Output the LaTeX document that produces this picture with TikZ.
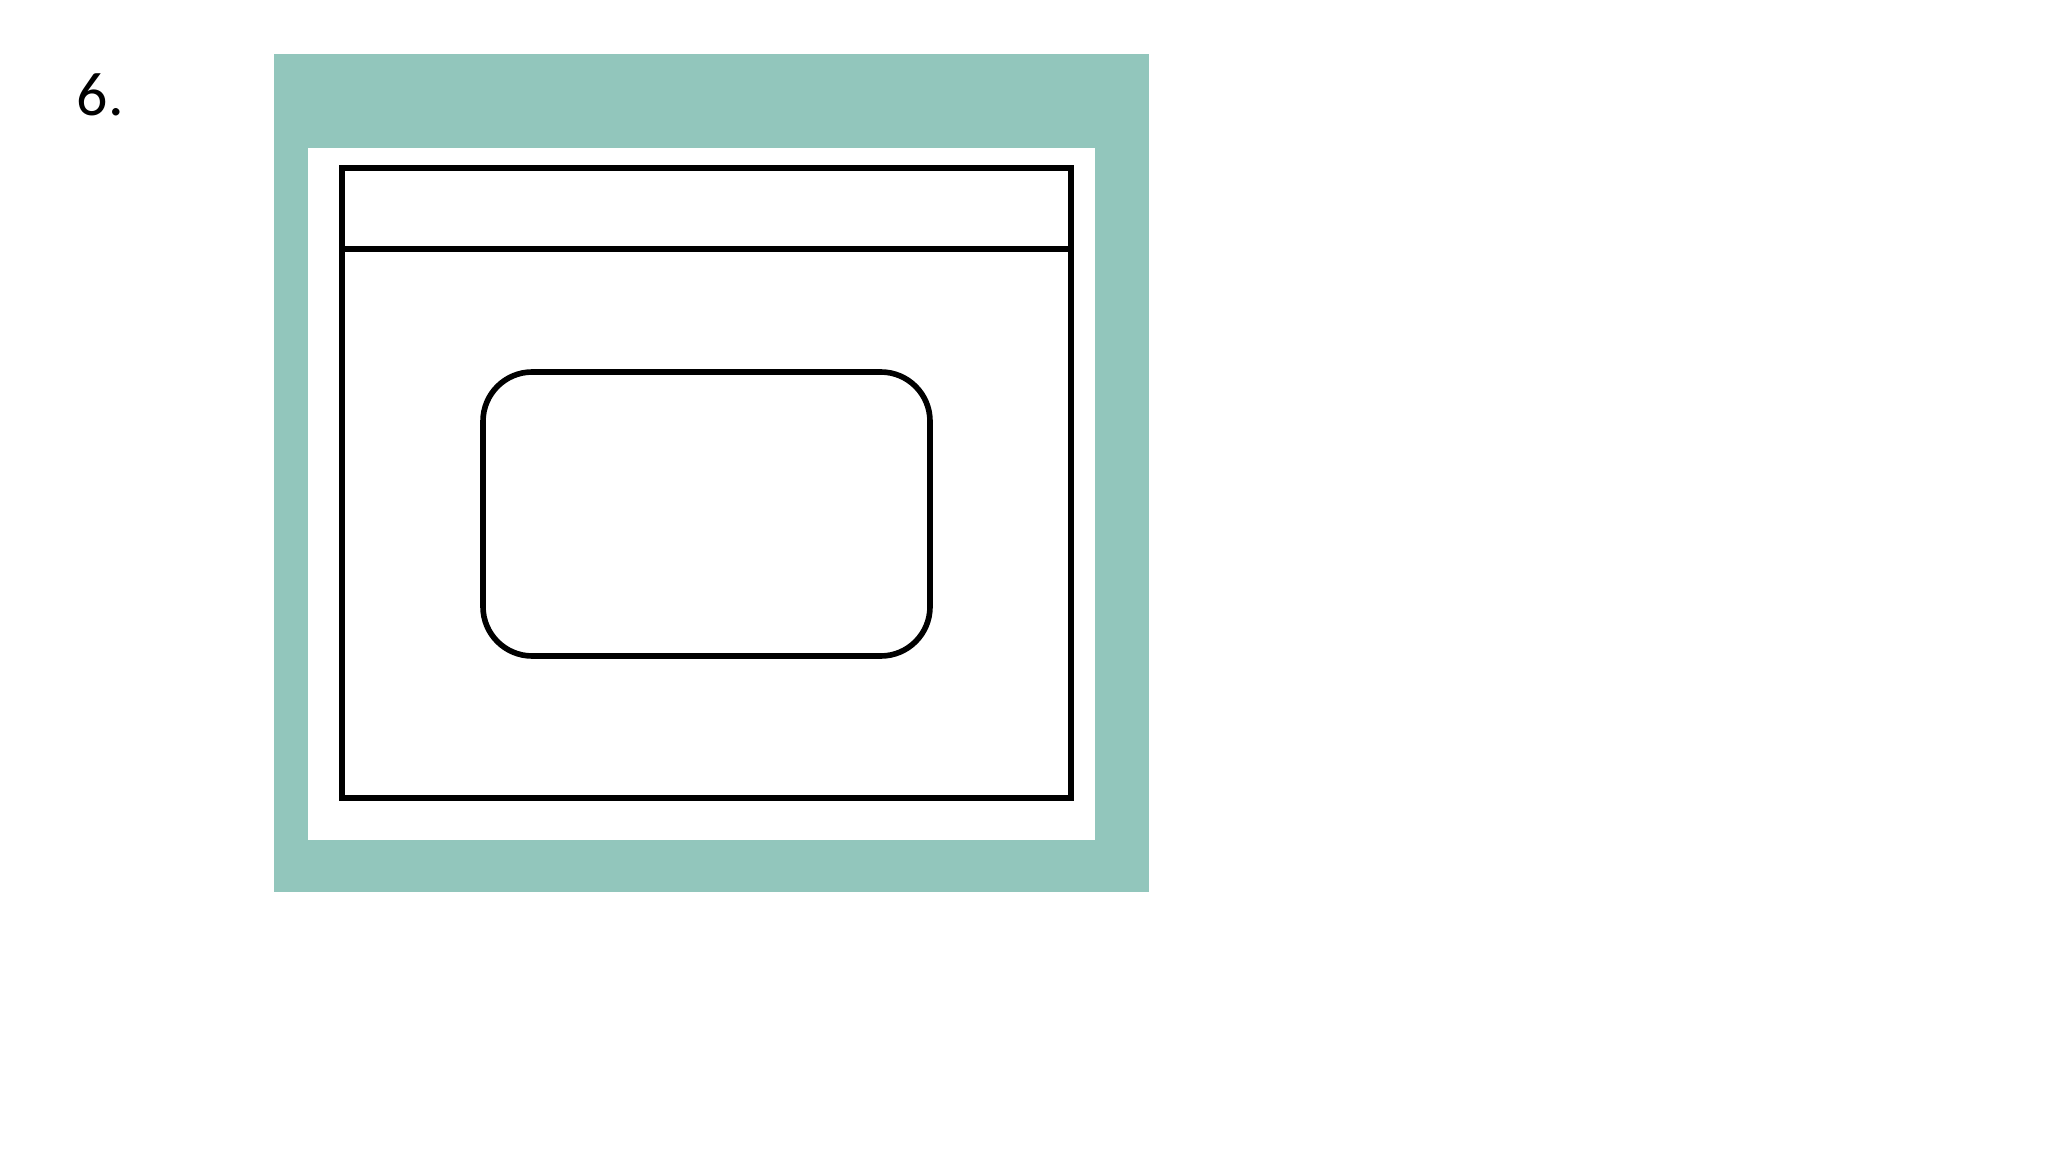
\documentclass[tikz,border=0pt]{standalone}
\usepackage{fontspec}
\setmainfont{Carlito}
\usepackage{xcolor}
\usepackage{tikz}

\definecolor{mint}{RGB}{146,198,188}

\begin{document}
\begin{tikzpicture}[x=0.01cm,y=-0.01cm]
					\useasboundingbox (0,0) rectangle (2048,1152);
					\node[anchor=north west,inner sep=0pt,font=\fontsize{17.6}{21}\selectfont] (num) at (76,73) {6.};
					\fill[mint] (274,54) rectangle (1149,892);
					\fill[white] (308,148) rectangle (1095,840);
					\draw[line width=1.6pt] (342,168) rectangle (1071,798);
					\draw[line width=1.6pt] (342,249) -- (1071,249);
					\draw[line width=1.6pt, rounded corners=14pt] (483,372) rectangle (930,656);
				\end{tikzpicture}
\end{document}
